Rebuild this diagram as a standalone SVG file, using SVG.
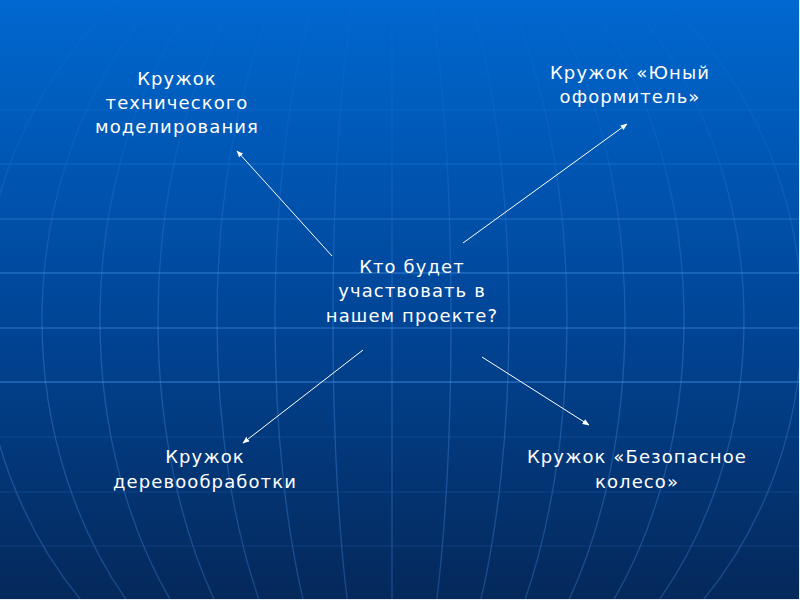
<svg xmlns="http://www.w3.org/2000/svg" width="800" height="600" viewBox="0 0 800 600">
  <defs>
    <linearGradient id="bg" x1="0" y1="0" x2="0" y2="1">
      <stop offset="0" stop-color="#0068d0"/>
      <stop offset="0.5" stop-color="#00479a"/>
      <stop offset="1" stop-color="#05285a"/>
    </linearGradient>
    <linearGradient id="mer" gradientUnits="userSpaceOnUse" x1="0" y1="0" x2="0" y2="600">
      <stop offset="0" stop-color="#4a98f0" stop-opacity="0.03"/>
      <stop offset="0.25" stop-color="#4a98f0" stop-opacity="0.12"/>
      <stop offset="0.55" stop-color="#4a98f0" stop-opacity="0.32"/>
      <stop offset="1" stop-color="#4a98f0" stop-opacity="0.3"/>
    </linearGradient>
    <marker id="ah" viewBox="0 0 10 10" refX="9" refY="5" markerWidth="7" markerHeight="7" markerUnits="userSpaceOnUse" orient="auto">
      <path d="M0,1 L10,5 L0,9 Z" fill="#ffffff"/>
    </marker>
    <style>
      .lbl { font-family: "DejaVu Sans", Verdana, sans-serif; font-size: 18px; fill: #ffffff; text-anchor: middle; letter-spacing: 1.1px; }
      .h { stroke: #4a98f0; stroke-width: 1.3; fill: none; }
      .m { stroke: url(#mer); stroke-width: 1.3; fill: none; }
      .conn { stroke: #ffffff; stroke-width: 1; fill: none; marker-end: url(#ah); }
    </style>
  </defs>

  <g id="background">
    <rect x="0" y="0" width="800" height="600" fill="url(#bg)"/>
    <g id="latitudes">
      <line class="h" x1="0" y1="55" x2="800" y2="55" stroke-opacity="0.04"/>
      <line class="h" x1="0" y1="110" x2="800" y2="110" stroke-opacity="0.1"/>
      <line class="h" x1="0" y1="164" x2="800" y2="164" stroke-opacity="0.2"/>
      <line class="h" x1="0" y1="219" x2="800" y2="219" stroke-opacity="0.28"/>
      <line class="h" x1="0" y1="273" x2="800" y2="273" stroke-opacity="0.45"/>
      <line class="h" x1="0" y1="328" x2="800" y2="328" stroke-opacity="0.4"/>
      <line class="h" x1="0" y1="382" x2="800" y2="382" stroke-opacity="0.5"/>
      <line class="h" x1="0" y1="437" x2="800" y2="437" stroke-opacity="0.14"/>
      <line class="h" x1="0" y1="492" x2="800" y2="492" stroke-opacity="0.12"/>
      <line class="h" x1="0" y1="546" x2="800" y2="546" stroke-opacity="0.1"/>
    </g>
    <g id="meridians">
      <line class="m" x1="392" y1="0" x2="392" y2="600"/>
      <path class="m" d="M392,-110 A59,430 0 0 0 392,750"/>
      <path class="m" d="M392,-110 A117,430 0 0 0 392,750"/>
      <path class="m" d="M392,-110 A175,430 0 0 0 392,750"/>
      <path class="m" d="M392,-110 A234,430 0 0 0 392,750"/>
      <path class="m" d="M392,-110 A292,430 0 0 0 392,750"/>
      <path class="m" d="M392,-110 A350,430 0 0 0 392,750"/>
      <path class="m" d="M392,-110 A410,430 0 0 0 392,750"/>
      <path class="m" d="M392,-110 A59,430 0 0 1 392,750"/>
      <path class="m" d="M392,-110 A117,430 0 0 1 392,750"/>
      <path class="m" d="M392,-110 A175,430 0 0 1 392,750"/>
      <path class="m" d="M392,-110 A233,430 0 0 1 392,750"/>
      <path class="m" d="M392,-110 A292,430 0 0 1 392,750"/>
      <path class="m" d="M392,-110 A352,430 0 0 1 392,750"/>
      <path class="m" d="M392,-110 A410,430 0 0 1 392,750"/>
    </g>
    <rect x="799" y="0" width="1" height="600" fill="#e8eef8"/>
    <rect x="0" y="599" width="800" height="1" fill="#e8eef8"/>
  </g>

  <g id="connectors">
    <line class="conn" x1="332" y1="256" x2="237" y2="151"/>
    <line class="conn" x1="463" y1="243" x2="627" y2="124"/>
    <line class="conn" x1="363" y1="350" x2="243" y2="443"/>
    <line class="conn" x1="482" y1="357" x2="589" y2="425"/>
  </g>

  <g id="node-center">
    <text class="lbl" x="412" y="273">Кто будет</text>
    <text class="lbl" x="412" y="297">участвовать в</text>
    <text class="lbl" x="412" y="322">нашем проекте?</text>
  </g>

  <g id="node-technical">
    <text class="lbl" x="177" y="85">Кружок</text>
    <text class="lbl" x="177" y="109">технического</text>
    <text class="lbl" x="177" y="133">моделирования</text>
  </g>

  <g id="node-designer">
    <text class="lbl" x="630" y="79">Кружок «Юный</text>
    <text class="lbl" x="630" y="103">оформитель»</text>
  </g>

  <g id="node-woodwork">
    <text class="lbl" x="205" y="463">Кружок</text>
    <text class="lbl" x="205" y="488">деревообработки</text>
  </g>

  <g id="node-safe-wheel">
    <text class="lbl" x="637" y="463">Кружок «Безопасное</text>
    <text class="lbl" x="637" y="488">колесо»</text>
  </g>
</svg>
